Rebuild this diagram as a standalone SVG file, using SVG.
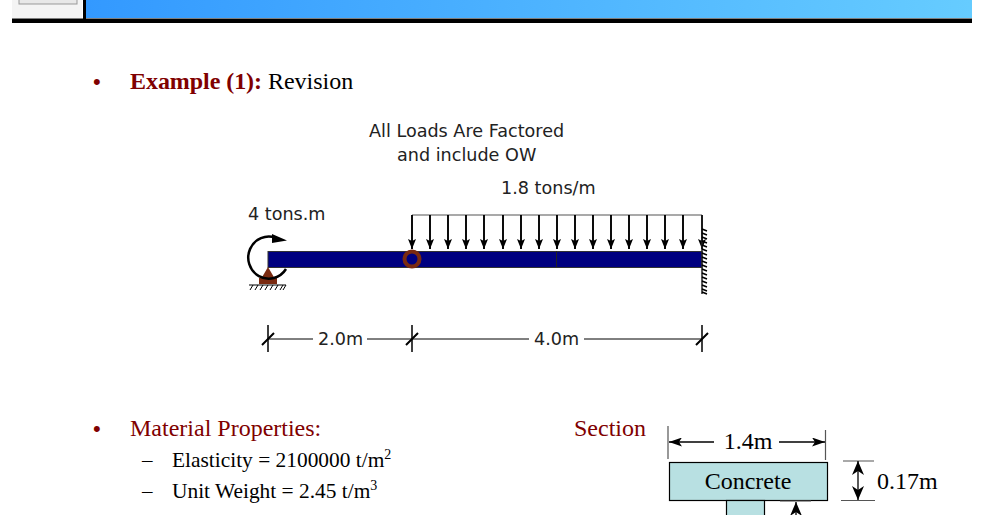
<svg xmlns="http://www.w3.org/2000/svg" width="982" height="515" viewBox="0 0 982 515">
<defs>
<linearGradient id="band" x1="0" x2="1" y1="0" y2="0"><stop offset="0" stop-color="#3399ff"/><stop offset="1" stop-color="#66ccff"/></linearGradient>
<marker id="ah" viewBox="0 0 10 8" refX="10" refY="4" markerWidth="10" markerHeight="8" markerUnits="userSpaceOnUse" orient="auto"><path d="M0 0 L10 4 L0 8 L2 4 Z" fill="#000"/></marker>
<marker id="sa" viewBox="0 0 13 9" refX="13" refY="4.5" markerWidth="13" markerHeight="9" markerUnits="userSpaceOnUse" orient="auto-start-reverse"><path d="M0 0 L13 4.500 L0 9 L3 4.500 Z" fill="#000"/></marker>
<marker id="sb" viewBox="0 0 14 12" refX="14" refY="6" markerWidth="14" markerHeight="12" markerUnits="userSpaceOnUse" orient="auto-start-reverse"><path d="M0 0 L14 6 L0 12 L4 6 Z" fill="#000"/></marker>
</defs>
<style>
.t{font-family:"Liberation Serif",serif;fill:#000}
.r{fill:#800000}
.s{font-family:"DejaVu Sans",sans-serif;font-size:17.6px;fill:#222}
.l{stroke:#000;stroke-width:1;fill:none}
.w{stroke:#000;stroke-width:1.5;fill:none}
.k{stroke:#000;stroke-width:2;fill:none}
.g{stroke:#555;stroke-width:1.2;fill:none}
.d{stroke:#000;stroke-width:1.3;fill:none}
.a line{stroke:#000;stroke-width:1.9;marker-end:url(#ah)}
.b{font-family:"Liberation Sans",sans-serif}
</style>
<g id="header">
<rect x="12" y="0" width="70" height="18" fill="#f4f4f4"/>
<rect x="19" y="-6" width="58" height="10" fill="#e8e8e8" stroke="#999"/>
<rect x="86" y="0" width="886" height="18" fill="url(#band)"/>
<rect x="12" y="18.500" width="960" height="4.500" fill="#000"/>
<rect x="83" y="0" width="3" height="19" fill="#000"/>
</g>
<g id="text-top">
<text class="b r" x="93" y="88.500" font-size="22">•</text>
<text class="t" x="130" y="89" font-size="24"><tspan class="r" font-weight="bold" textLength="132">Example (1):</tspan> Revision</text>
</g>
<g id="beam-labels">
<text class="s" x="369" y="137">All Loads Are Factored</text>
<text class="s" x="397" y="161">and include OW</text>
<text class="s" x="501" y="194">1.8 tons/m</text>
<text class="s" x="248" y="220">4 tons.m</text>
</g>
<g id="beam">
<rect x="268" y="251.500" width="434" height="16" fill="#000080" stroke="#333" stroke-width="1"/>
<line x1="556.500" y1="251" x2="556.500" y2="267" stroke="#222"/>
</g>
<g id="load">
<path class="g" d="M412 215 H702"/>
<g class="a">
<line x1="412" y1="215" x2="412" y2="249"/><line x1="430" y1="215" x2="430" y2="249"/><line x1="448" y1="215" x2="448" y2="249"/><line x1="466" y1="215" x2="466" y2="249"/><line x1="484" y1="215" x2="484" y2="249"/><line x1="503" y1="215" x2="503" y2="249"/><line x1="521" y1="215" x2="521" y2="249"/><line x1="539" y1="215" x2="539" y2="249"/><line x1="557" y1="215" x2="557" y2="249"/><line x1="575" y1="215" x2="575" y2="249"/><line x1="593" y1="215" x2="593" y2="249"/><line x1="611" y1="215" x2="611" y2="249"/><line x1="629" y1="215" x2="629" y2="249"/><line x1="647" y1="215" x2="647" y2="249"/><line x1="665" y1="215" x2="665" y2="249"/><line x1="683" y1="215" x2="683" y2="249"/><line x1="702" y1="215" x2="702" y2="249"/>
</g>
</g>
<g id="hinge"><circle cx="412" cy="259" r="7.500" fill="none" stroke="#7a2a10" stroke-width="4"/></g>
<g id="pin-support">
<path d="M268 267 L275 279 L261 279 Z" fill="#7a2a10"/>
<rect x="259" y="278" width="18" height="6" fill="#7a2a10"/>
<line x1="249" y1="285" x2="286" y2="285" stroke="#000" stroke-width="1.200"/>
<path class="l" d="M253 285l-3 5M258 285l-3 5M263 285l-3 5M268 285l-3 5M273 285l-3 5M278 285l-3 5M283 285l-3 5M286 285l-3 5"/>
</g>
<g id="moment">
<path d="M276 238 A20.500 21 0 1 0 286 269" fill="none" stroke="#000" stroke-width="2.500"/>
<path d="M272 234 L287 240.500 L272 243 Z" fill="#000"/>
</g>
<g id="fixed-support">
<line x1="702" y1="215" x2="702" y2="294" stroke="#222" stroke-width="1.500"/>
<path class="w" d="M702 229l5 2M702 233l5 2M702 237l5 2M702 241l5 2M702 245l5 2M702 249l5 2M702 253l5 2M702 257l5 2M702 261l5 2M702 265l5 2M702 269l5 2M702 273l5 2M702 277l5 2M702 281l5 2M702 285l5 2M702 289l5 2M702 292l5 2"/>
</g>
<g id="dimensions">
<path class="w" d="M268 325V352M412 325V352M702 325V352"/>
<path class="k" d="M262 345L274 333M406 345L418 333M696 345L708 333"/>
<path class="l" d="M268 339H313M367 339H412M412 339H529M584 339H702"/>
<text class="s" x="318" y="345">2.0m</text>
<text class="s" x="534" y="345">4.0m</text>
</g>
<g id="text-bottom">
<text class="b r" x="93" y="435.500" font-size="22">•</text>
<text class="t r" x="130" y="436" font-size="24">Material Properties:</text>
<text class="t" x="142" y="467" font-size="21">–</text>
<text class="t" x="172" y="467" font-size="21.4">Elasticity = 2100000 t/m<tspan font-size="14" dy="-8">2</tspan></text>
<text class="t" x="142" y="498" font-size="21">–</text>
<text class="t" x="172" y="498" font-size="21.4">Unit Weight = 2.45 t/m<tspan font-size="14" dy="-8">3</tspan></text>
<text class="t r" x="574" y="436" font-size="24">Section</text>
</g>
<g id="section">
<rect x="669.500" y="462.500" width="158" height="38" fill="#b8e0e2" stroke="#000" stroke-width="1.200"/>
<rect x="726.500" y="500.500" width="38" height="20" fill="#b8e0e2" stroke="#000" stroke-width="1.200"/>
<text class="t" x="748" y="489" font-size="24" text-anchor="middle">Concrete</text>
</g>
<g id="section-dims">
<path class="g" d="M668 426V459M825.500 430V460M843 461H874M841 500.500H875M780 501H811"/>
<path class="d" marker-end="url(#sa)" d="M714 442H669"/>
<path class="d" marker-end="url(#sa)" d="M779 442H825"/>
<text class="t" x="748" y="449" font-size="24" text-anchor="middle">1.4m</text>
<path class="d" marker-start="url(#sb)" marker-end="url(#sb)" d="M858 461V500"/>
<text class="t" x="877" y="489" font-size="24">0.17m</text>
<path class="d" marker-start="url(#sb)" d="M796 502V520"/>
</g>
</svg>
